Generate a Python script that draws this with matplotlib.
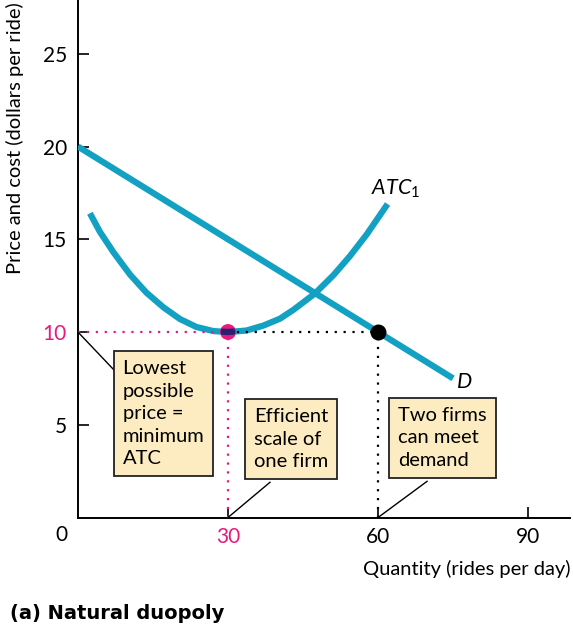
import matplotlib
matplotlib.use('Agg')
import matplotlib.pyplot as plt
from matplotlib.patches import Ellipse

plt.rcParams['font.family'] = ['Lato', 'DejaVu Sans']
plt.rcParams['mathtext.fontset'] = 'custom'
plt.rcParams['mathtext.it'] = 'Lato:italic'
plt.rcParams['mathtext.rm'] = 'Lato'

# data
demand_q = [0, 75]
demand_p = [20, 7.5]

atc_q = [2.4, 4.4, 7.1, 10.4, 13.7, 17.1, 20.4, 23.7, 27.1, 30,
         33.7, 37.1, 40.4, 43.1, 47.4, 51.1, 54.4, 57.7, 61.9]
atc_p = [16.4, 15.4, 14.3, 13.1, 12.12, 11.33, 10.7, 10.27, 10.05, 10,
         10.08, 10.35, 10.72, 11.2, 12.08, 13.07, 14.1, 15.25, 16.9]

min_atc_q = 30
min_atc_p = 10
two_firm_q = 60

x_ticks = [30, 60, 90]
y_ticks = [5, 10, 15, 20, 25]

box_texts = ['Lowest\npossible\nprice =\nminimum\nATC',
             'Efficient\nscale of\none firm',
             'Two firms\ncan meet\ndemand']

blue = '#12a0c3'
pink = '#e8197f'
fs = 14.5

fig = plt.figure(figsize=(5.73, 6.25), dpi=100)
ax = fig.add_axes([0.136, 0.172, 0.859, 0.828])
ax.set_xlim(0, 98.4)
ax.set_ylim(0, 27.9)

for s in ['top', 'right']:
    ax.spines[s].set_visible(False)
for s in ['left', 'bottom']:
    ax.spines[s].set_linewidth(1.4)

ax.set_xticks(x_ticks)
ax.set_yticks(y_ticks)
ax.tick_params(direction='in', length=8, width=1.2, labelsize=15)
ax.tick_params(axis='x', pad=7)
ax.tick_params(axis='y', pad=8)
ax.get_xticklabels()[0].set_color(pink)
ax.get_yticklabels()[1].set_color(pink)
ax.text(-3.2, -0.95, '0', fontsize=15, ha='center', va='center', clip_on=False)

# curves
ax.plot(demand_q, demand_p, color=blue, lw=4.5, solid_capstyle='butt', zorder=3)
ax.plot(atc_q, atc_p, color=blue, lw=4.5, solid_capstyle='butt',
        solid_joinstyle='round', zorder=3)

# dotted guide lines
ax.plot([0, min_atc_q], [min_atc_p, min_atc_p], color=pink, ls=(0, (1, 3)), lw=1.6, zorder=4)
ax.plot([min_atc_q, min_atc_q], [0, min_atc_p], color=pink, ls=(0, (1, 3)), lw=1.6, zorder=4)
ax.plot([min_atc_q, two_firm_q], [min_atc_p, min_atc_p], color='black', ls=(0, (1, 3)), lw=1.6, zorder=4)
ax.plot([two_firm_q, two_firm_q], [0, min_atc_p], color='black', ls=(0, (1, 3)), lw=1.6, zorder=4)

# points
dot = Ellipse((min_atc_q, min_atc_p), 2.9, 0.78, color=pink, zorder=5)
ax.add_patch(dot)
over, = ax.plot(atc_q, atc_p, color='#2a1f70', lw=4.5, zorder=6)
over.set_clip_path(dot)
ax.plot(two_firm_q, min_atc_p, 'o', color='black', ms=10.5, zorder=6)

# curve labels
ax.text(58.6, 17.7, r'$ATC_\mathrm{1}$', fontsize=15.5, ha='left', va='center')
ax.text(75.8, 7.3, 'D', fontsize=15.5, style='italic', ha='left', va='center')

# annotation boxes
box_xy = [(17.1, 5.6), (42.6, 4.23), (72.9, 4.29)]
for (bx, by), txt in zip(box_xy, box_texts):
    ax.text(bx, by, txt, fontsize=fs, ha='center', va='center',
            multialignment='left', linespacing=1.4, zorder=7,
            bbox=dict(boxstyle='square,pad=0.45', fc='#fdecc1', ec='#222222', lw=1.3))

# leader lines
ax.plot([0, 7.4], [10, 7.9], color='black', lw=1, clip_on=False, zorder=6)
ax.plot([30, 38.4], [0, 1.9], color='black', lw=1, zorder=6)
ax.plot([60, 69.8], [0, 1.95], color='black', lw=1, zorder=6)

# axis labels
ax.text(-0.128, 0.995, 'Price and cost (dollars per ride)', transform=ax.transAxes,
        rotation=90, ha='center', va='top', fontsize=fs)
ax.text(1.0, -0.1, 'Quantity (rides per day)', transform=ax.transAxes,
        ha='right', va='center', fontsize=fs)

fig.text(0.017, 0.019, '(a) Natural duopoly', fontsize=14, fontweight='bold',
         family='DejaVu Sans', ha='left', va='center')

plt.savefig('out.png', dpi=100)
